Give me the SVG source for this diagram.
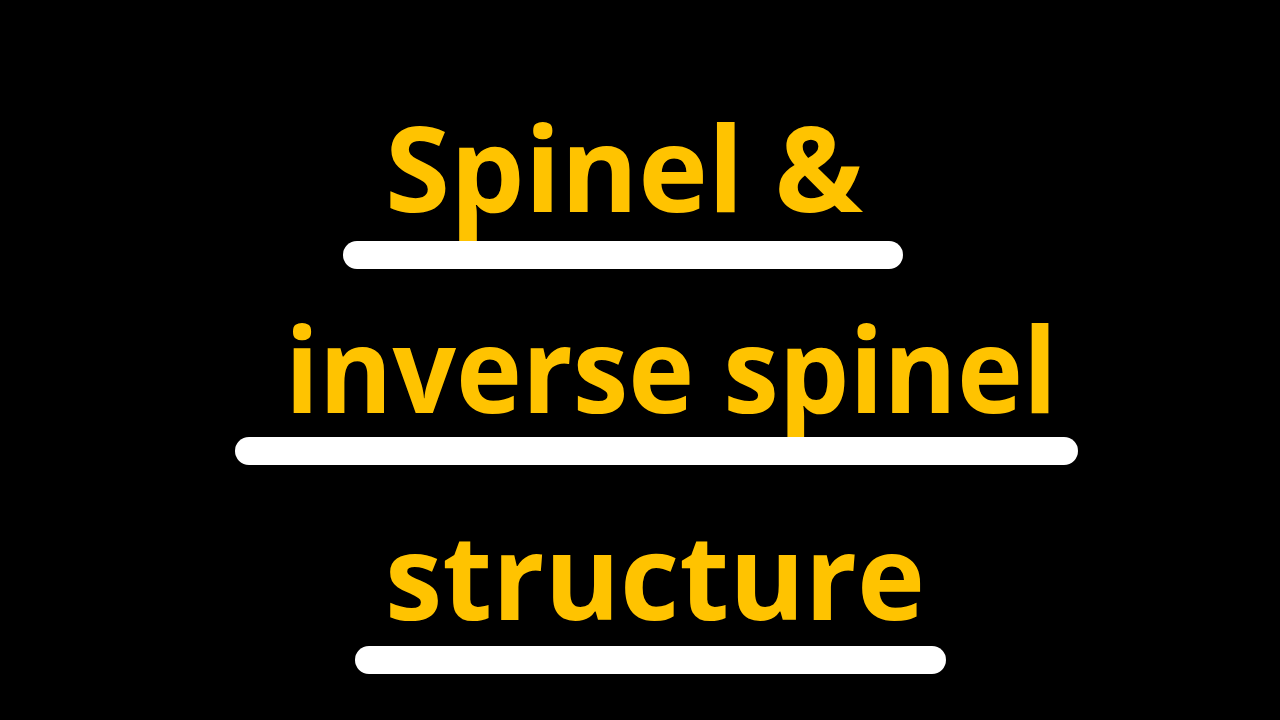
<svg xmlns="http://www.w3.org/2000/svg" width="1280" height="720" viewBox="0 0 1280 720">
<style>
.t{font-family:"Open Sans","DejaVu Sans",sans-serif;font-weight:bold;font-size:118px;fill:#FFC300}
.u{stroke:#fff;stroke-width:28;stroke-linecap:round}
</style>
<rect width="1280" height="720" fill="#000"/>
<g id="title">
<text class="t" x="385" y="212" textLength="478" lengthAdjust="spacingAndGlyphs">Spinel &amp;</text>
<text class="t" x="285" y="413" textLength="772" lengthAdjust="spacingAndGlyphs">inverse spinel</text>
<text class="t" x="385" y="620" textLength="540" lengthAdjust="spacingAndGlyphs">structure</text>
</g>
<g id="underlines">
<line class="u" x1="357" y1="255" x2="889" y2="255"/>
<line class="u" x1="249" y1="451" x2="1064" y2="451"/>
<line class="u" x1="369" y1="660" x2="932" y2="660"/>
</g>
</svg>
